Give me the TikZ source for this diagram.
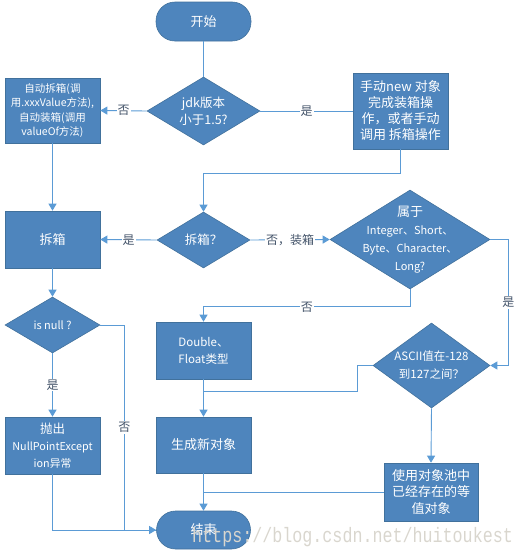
\documentclass[tikz,border=0pt]{standalone}
\usepackage{fontspec}
\setmainfont{Noto Sans CJK SC}
\newfontfamily\wmfont{Liberation Mono}
\usetikzlibrary{shapes.geometric,arrows.meta,calc}
\definecolor{fillc}{HTML}{4E85BD}
\definecolor{bordc}{HTML}{41719C}
\definecolor{linec}{HTML}{5B9BD5}
\definecolor{lblc}{HTML}{44546A}
\definecolor{wmc}{HTML}{D9D6CE}
\tikzset{
  box/.style={draw=bordc, fill=fillc, text=white, inner sep=0pt, align=center, line width=0.6pt},
  term/.style={box, rounded corners=19pt},
  dia/.style={draw=bordc, fill=fillc, shape=diamond, inner sep=0pt, line width=0.6pt},
  dtext/.style={text=white, align=center, inner sep=0pt},
  conn/.style={draw=linec, line width=0.9pt},
  arr/.style={conn, -{Triangle[length=7pt,width=8pt]}},
  lbl/.style={fill=white, text=lblc, inner sep=1pt, font=\fontsize{12}{14}\selectfont}
}
\begin{document}
\begin{tikzpicture}[x=1pt,y=-1pt]
\useasboundingbox (0,0) rectangle (523,557);
% nodes
\node[term, minimum width=95pt, minimum height=39pt, font=\fontsize{13}{15}\selectfont] (start) at (203.5,21.5) {开始};
\node[dia, minimum width=113pt, minimum height=68pt, label={[dtext, font=\fontsize{12.5}{17}\selectfont]center:{jdk版本\\小于1.5?}}] (d1) at (203.5,111) {};
\node[box, minimum width=95pt, minimum height=65pt, font=\fontsize{10.5}{14.2}\selectfont] (b1) at (52.5,110.5) {自动拆箱(调\\用.xxxValue方法),\\自动装箱(调用\\valueOf方法)};
\node[box, minimum width=95pt, minimum height=76pt, font=\fontsize{13}{16}\selectfont] (b2) at (400.5,111) {手动new 对象\\完成装箱操\\作，或者手动\\调用 拆箱操作};
\node[dia, minimum width=93pt, minimum height=56pt, label={[dtext, font=\fontsize{12.5}{15}\selectfont]center:{拆箱？}}] (d2) at (203.5,240) {};
\node[box, minimum width=95pt, minimum height=57pt, font=\fontsize{13}{15}\selectfont] (b3) at (52.5,239.5) {拆箱};
\node[dia, minimum width=160pt, minimum height=99pt, label={[dtext, font=\fontsize{11}{18}\selectfont]center:{{\fontsize{13}{18}\selectfont 属于}\\Integer、Short、\\Byte、Character、\\Long?}}] (d3) at (410,239.5) {};
\node[dia, minimum width=95pt, minimum height=56pt, label={[dtext, font=\fontsize{11}{13}\selectfont]center:{is null ?}}] (d4) at (52.5,325) {};
\node[box, minimum width=95pt, minimum height=57pt, font=\fontsize{11.5}{17}\selectfont] (b4) at (203.5,350.5) {Double、\\Float类型};
\node[dia, minimum width=117pt, minimum height=85pt, label={[dtext, font=\fontsize{11.5}{18}\selectfont]center:{ASCII值在-128\\到127之间？}}] (d5) at (431.5,365.5) {};
\node[box, minimum width=95pt, minimum height=57pt, font=\fontsize{10.8}{17}\selectfont] (b5) at (52.5,445.5) {{\fontsize{12.5}{17}\selectfont 抛出}\\NullPointExcept\\ion异常};
\node[box, minimum width=95pt, minimum height=56pt, font=\fontsize{13}{15}\selectfont] (b6) at (203.5,445) {生成新对象};
\node[box, minimum width=94pt, minimum height=58pt, font=\fontsize{13}{16.5}\selectfont] (b7) at (431,492) {使用对象池中\\已经存在的等\\值对象};
\node[term, minimum width=94pt, minimum height=38pt, font=\fontsize{13}{15}\selectfont] (end) at (203.5,530) {结束};
\coordinate (m1) at (203.5,391);
\coordinate (m2) at (203.5,492);
% connectors
\draw[conn] (start.south) -- (d1.north);
\draw[arr] (d1.west) -- node[lbl]{否} (b1.east);
\draw[conn] (d1.east) -- node[lbl]{是} (b2.west);
\draw[arr] (b1.south) -- (b3.north);
\draw[arr] (b2.south) -- ++(0,24) -| (d2.north);
\draw[arr] (d2.west) -- node[lbl]{是} (b3.east);
\draw[arr] (d2.east) -- node[lbl]{否，装箱} (d3.west);
\draw[arr] (d3.east) -- ++(18,0) |- node[lbl,pos=0.25]{是} (d5.east);
\draw[arr] (d3.south) -- ++(0,17.5) -| node[lbl,pos=0.25]{否} (b4.north);
\draw[arr] (b3.south) -- (d4.north);
\draw[arr] (d4.south) -- node[lbl]{是} (b5.north);
\draw[conn] (b5.south) |- (end.west);
\draw[arr] (d4.east) -- ++(24,0) |- node[lbl,pos=0.25]{否} (end.west);
\draw[arr] (b4.south) -- (b6.north);
\draw[conn] (d5.west) -- ++(-15,0) |- (m1);
\draw[arr] (d5.south) -- (b7.north);
\draw[arr] (b6.south) -- (end.north);
\draw[conn] (b7.west) -- (m2);
% watermark
\node[text=wmc, inner sep=0pt, anchor=base west, font=\wmfont\fontsize{16.7}{17}\selectfont] (wm) at (192,542) {\scalebox{1}[1.25]{https://blog.csdn.net/huitoukest}};
\end{tikzpicture}
\end{document}
